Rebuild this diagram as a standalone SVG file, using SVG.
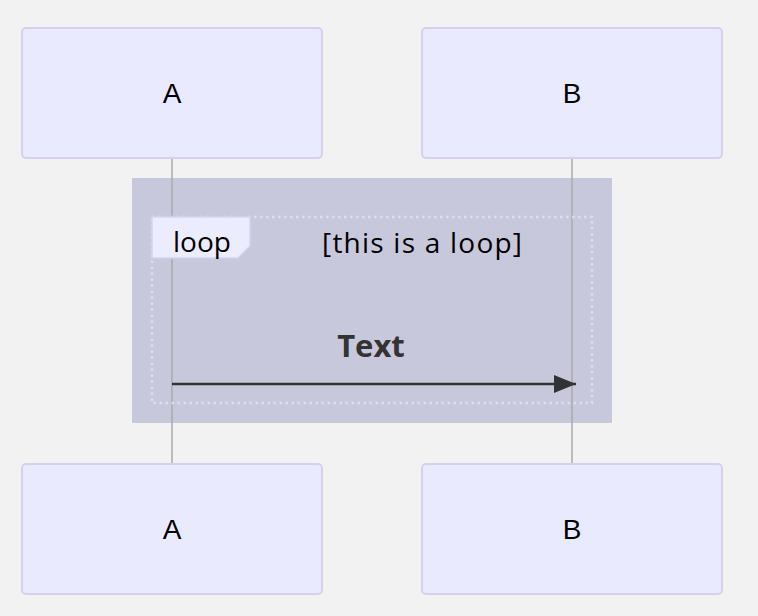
<svg xmlns="http://www.w3.org/2000/svg" width="758" height="616" viewBox="0 0 758 616">
<style>
.actor{fill:#eaeaff;stroke:#d6d0ee;stroke-width:2}
.atext{font-family:"Liberation Sans",Arial,sans-serif;font-size:28px;fill:#000;text-anchor:middle;dominant-baseline:central}
.life{stroke:#aaa;stroke-width:1.5}
.ltext{font-family:"Open Sans","DejaVu Sans",sans-serif;font-size:28px;fill:#000;text-anchor:middle;dominant-baseline:central}
.msg{font-family:"Open Sans","DejaVu Sans",sans-serif;font-size:31px;font-weight:bold;fill:#333;text-anchor:middle;dominant-baseline:central}
</style>
<defs>
<marker id="arrow" markerWidth="22" markerHeight="20" refX="22" refY="10" orient="auto" markerUnits="userSpaceOnUse">
<path d="M0,1 L22,10 L0,19 Z" fill="#333"/>
</marker>
</defs>
<rect width="758" height="616" fill="#f2f2f2"/>
<g id="loop-bg">
<rect x="132" y="178" width="480" height="245" fill="#c8c8dc"/>
</g>
<g id="lifelines">
<line class="life" x1="172" y1="158" x2="172" y2="464"/>
<line class="life" x1="572" y1="158" x2="572" y2="464"/>
</g>
<g id="loop">
<rect x="152" y="217" width="440" height="186" fill="none" stroke="#e0dbf5" stroke-width="2.5" stroke-dasharray="2.5,3.5"/>
<polygon points="152,217 250,217 250,246 238,258 152,258" fill="#ececff" stroke="#d6d0ee" stroke-width="1.5"/>
<text class="ltext" x="202" y="241">loop</text>
<text class="ltext" x="422" y="242" textLength="200">[this is a loop]</text>
</g>
<g id="connectors">
<line x1="172" y1="384" x2="576" y2="384" stroke="#333" stroke-width="2.5" marker-end="url(#arrow)"/>
<text class="msg" x="371" y="345">Text</text>
</g>
<g id="actorA-top"><rect class="actor" x="22" y="28" width="300" height="130" rx="4"/><text class="atext" x="172" y="93">A</text></g>
<g id="actorB-top"><rect class="actor" x="422" y="28" width="300" height="130" rx="4"/><text class="atext" x="572" y="93">B</text></g>
<g id="actorA-bottom"><rect class="actor" x="22" y="464" width="300" height="130" rx="4"/><text class="atext" x="172" y="529">A</text></g>
<g id="actorB-bottom"><rect class="actor" x="422" y="464" width="300" height="130" rx="4"/><text class="atext" x="572" y="529">B</text></g>
</svg>
